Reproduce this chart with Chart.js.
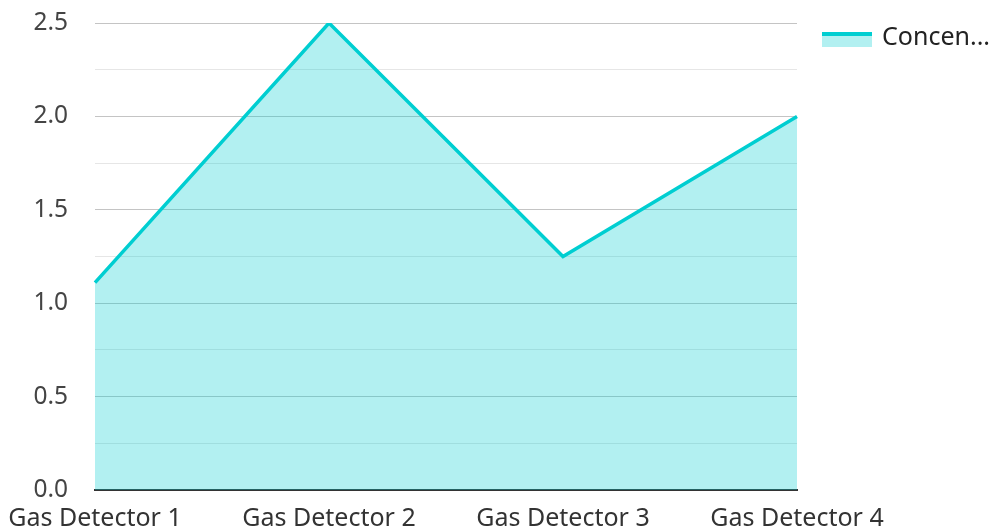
<!DOCTYPE html>
<html>
<head>
<meta charset="utf-8">
<script src="https://cdn.jsdelivr.net/npm/chart.js@4.4.0/dist/chart.umd.min.js"></script>
<style>
  html, body { margin: 0; padding: 0; background: #fff; }
  #wrap { width: 989px; height: 531px; position: relative; }
</style>
</head>
<body>
<div id="wrap"><canvas id="chart"></canvas></div>
<script>
const detectors = ['Gas Detector 1', 'Gas Detector 2', 'Gas Detector 3', 'Gas Detector 4'];
const concentration = [1.11, 2.5, 1.25, 2.0];
const seriesName = 'Concentration';
const yTicks = [0, 0.5, 1.0, 1.5, 2.0, 2.5];

const lineColor = '#00ced1';
const fillColor = 'rgba(0, 206, 209, 0.3)';
const fontFamily = 'Noto Sans';

// legend drawn by hand to the right of the plot: swatch with a thick top line, truncated name
const sideLegend = {
    id: 'sideLegend',
    afterDraw(chart) {
        const ctx = chart.ctx;
        const area = chart.chartArea;
        const x = area.right + 25;
        const y = area.top + 9;
        ctx.save();
        ctx.fillStyle = fillColor;
        ctx.fillRect(x, y, 50, 15);
        ctx.fillStyle = lineColor;
        ctx.fillRect(x, y, 50, 4);
        ctx.fillStyle = '#222';
        ctx.font = '25px "' + fontFamily + '"';
        ctx.textBaseline = 'middle';
        ctx.textAlign = 'left';
        const name = chart.data.datasets[0].label;
        ctx.fillText(name.slice(0, 6) + '...', x + 60, y + 6);
        ctx.restore();
    }
};

new Chart(document.getElementById('chart'), {
    type: 'line',
    data: {
        labels: detectors,
        datasets: [{
            label: seriesName,
            data: concentration,
            borderColor: lineColor,
            backgroundColor: fillColor,
            borderWidth: 3.5,
            fill: 'origin',
            tension: 0,
            pointRadius: 0
        }]
    },
    options: {
        responsive: true,
        maintainAspectRatio: false,
        animation: false,
        layout: { padding: { top: 0, right: 192, bottom: 0, left: 0 } },
        plugins: {
            tooltip: { enabled: false },
            legend: { display: false }
        },
        scales: {
            x: {
                offset: false,
                grid: { display: false, drawTicks: false },
                border: { display: true, color: '#333', width: 2 },
                ticks: {
                    color: '#333',
                    padding: 14,
                    maxRotation: 0,
                    autoSkip: false,
                    font: { family: fontFamily, size: 25 }
                },
                afterFit: (s) => { s.height = 41; s.paddingLeft = 95; s.paddingRight = 0; }
            },
            y: {
                min: 0,
                max: 2.5,
                border: { display: false },
                grid: {
                    drawTicks: false,
                    lineWidth: 1,
                    color: (c) => {
                        const v = c.tick ? c.tick.value : 0;
                        const major = yTicks.some(t => Math.abs(t - v) < 1e-6);
                        return major ? '#c4c4c4' : '#e6e6e6';
                    }
                },
                ticks: {
                    stepSize: 0.25,
                    autoSkip: false,
                    padding: 27,
                    color: '#444',
                    font: { family: fontFamily, size: 24.5 },
                    callback: (v) => yTicks.some(t => Math.abs(t - v) < 1e-6) ? Number(v).toFixed(1) : ''
                },
                afterFit: (s) => { s.paddingTop = 23; s.paddingBottom = 0; }
            }
        }
    },
    plugins: [sideLegend]
});
</script>
</body>
</html>
